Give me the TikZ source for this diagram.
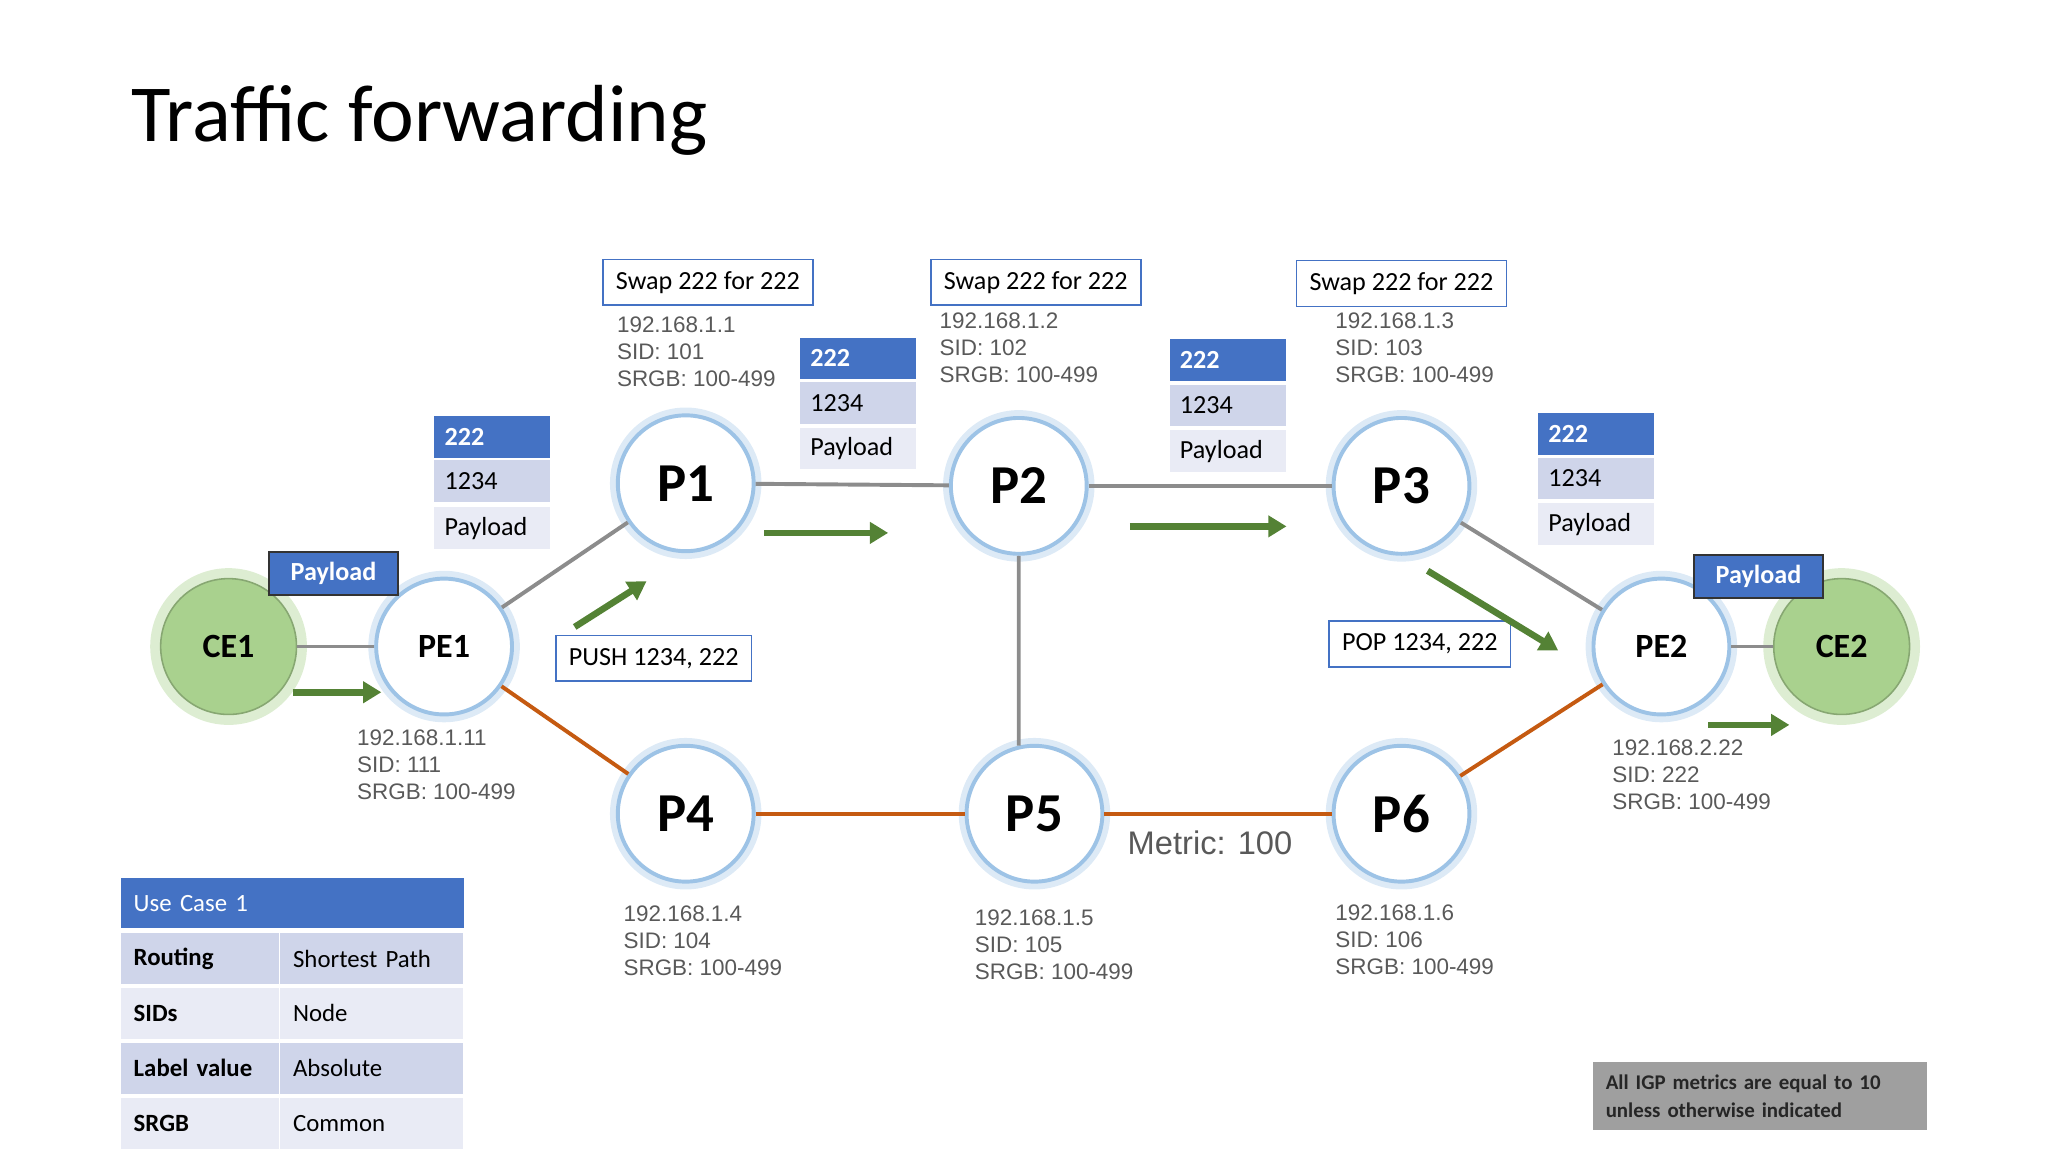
\documentclass[tikz,border=0pt]{standalone}
\usepackage{fontspec}
\setmainfont{Carlito}
\newfontfamily\arialf{Liberation Sans}
\usetikzlibrary{arrows.meta}
\definecolor{dblue}{HTML}{4472C4}
\definecolor{mblue}{HTML}{CFD5EA}
\definecolor{lblue}{HTML}{E9EBF5}
\definecolor{ggreen}{HTML}{548235}
\definecolor{cegreen}{HTML}{A9D18E}
\definecolor{eorange}{HTML}{C55A11}
\definecolor{ipgray}{HTML}{595959}
\definecolor{glowb}{HTML}{9DC3E6}
\tikzset{
  rnode/.style={circle,fill=white,draw=glowb,line width=1.5pt,minimum size=52pt,inner sep=0pt,font=\bfseries\fontsize{21}{21}\selectfont,
    preaction={draw=glowb!35,line width=6pt}},
  cenode/.style={circle,fill=cegreen,draw=ggreen!70,line width=0.6pt,minimum size=52pt,inner sep=0pt,font=\bfseries\fontsize{13}{13}\selectfont,
    preaction={draw=cegreen!40,line width=8pt}},
  pe/.style={rnode,font=\bfseries\fontsize{13}{13}\selectfont},
  lbl/.style={anchor=north west,minimum height=16pt,text width=36.5pt,inner xsep=4pt,inner ysep=0pt,align=left,font=\fontsize{10}{10}\selectfont},
  ltop/.style={lbl,fill=dblue,text=white,font=\bfseries\fontsize{10}{10}\selectfont},
  lmid/.style={lbl,fill=mblue},
  lbot/.style={lbl,fill=lblue},
  pay/.style={anchor=north west,minimum height=16.5pt,minimum width=49.5pt,inner sep=0pt,fill=dblue,draw=black!80,line width=0.8pt,text=white,font=\bfseries\fontsize{10}{10}\selectfont},
  opbox/.style={anchor=north west,minimum height=17.5pt,inner xsep=5pt,draw=dblue,line width=0.6pt,fill=white,font=\fontsize{10}{10}\selectfont},
  ip/.style={anchor=north west,align=left,inner sep=0pt,text=ipgray,font=\arialf\fontsize{8.6}{10.4}\selectfont},
  gline/.style={draw=gray!90,line width=1.5pt},
  oline/.style={draw=eorange,line width=1.5pt},
  garrow/.style={draw=ggreen,line width=2.5pt,-{Triangle[length=7pt,width=8pt]}},
  tcell/.style={anchor=north west,minimum height=19.5pt,inner xsep=5pt,inner ysep=0pt,text width=50.5pt,align=left,font=\fontsize{9.5}{10}\selectfont},
}
\begin{document}
\begin{tikzpicture}[x=0.5pt,y=-0.5pt]
\useasboundingbox (0,0) rectangle (1568,882);
\node[anchor=base west,inner sep=0pt,font=\fontsize{31}{31}\selectfont] (title) at (100,108) {Traffic forwarding};
% nodes
\node[cenode] (CE1) at (175,495) {CE1};
\node[pe] (PE1) at (340,495) {PE1};
\node[rnode] (P1) at (525,370) {P1};
\node[rnode] (P2) at (780,372) {P2};
\node[rnode] (P3) at (1073,372) {P3};
\node[rnode] (P4) at (525,623) {P4};
\node[rnode] (P5) at (792,623) {P5};
\node[rnode] (P6) at (1073,623) {P6};
\node[pe] (PE2) at (1272,495) {PE2};
\node[cenode] (CE2) at (1410,495) {CE2};
% edges
\draw[gline] (CE1)--(PE1);
\draw[gline] (PE1)--(P1);
\draw[gline] (P1)--(P2);
\draw[gline] (P2)--(P3);
\draw[gline] (P3)--(PE2);
\draw[gline] (PE2)--(CE2);
\draw[gline] (P2.south)--(P5.103);
\draw[oline] (PE1)--(P4);
\draw[oline] (P4)--(P5);
\draw[oline] (P5)--(P6);
\draw[oline] (P6)--(PE2);
% label stacks
\node[ltop] (s1a) at (332,318) {222};
\node[lmid] (s1b) at (332,352) {1234};
\node[lbot] (s1c) at (332,388) {Payload};
\node[ltop] (s2a) at (612,258) {222};
\node[lmid] (s2b) at (612,292) {1234};
\node[lbot] (s2c) at (612,327) {Payload};
\node[ltop] (s3a) at (895,259) {222};
\node[lmid] (s3b) at (895,294) {1234};
\node[lbot] (s3c) at (895,329) {Payload};
\node[ltop] (s4a) at (1177,316) {222};
\node[lmid] (s4b) at (1177,350) {1234};
\node[lbot] (s4c) at (1177,385) {Payload};
\node[pay] (pay1) at (205,422) {Payload};
\node[pay] (pay2) at (1296,424) {Payload};
% operation boxes
\node[opbox] (sw1) at (461,198) {Swap 222 for 222};
\node[opbox] (sw2) at (712,198) {Swap 222 for 222};
\node[opbox] (sw3) at (992,199) {Swap 222 for 222};
\node[opbox] (push) at (425,486) {PUSH 1234, 222};
\node[opbox] (pop) at (1017,475) {POP 1234, 222};
% ip texts
\node[ip] (ip1) at (472,242) {192.168.1.1\\SID: 101\\SRGB: 100-499};
\node[ip] (ip2) at (719,239) {192.168.1.2\\SID: 102\\SRGB: 100-499};
\node[ip] (ip3) at (1022,239) {192.168.1.3\\SID: 103\\SRGB: 100-499};
\node[ip] (ip11) at (273,558) {192.168.1.11\\SID: 111\\SRGB: 100-499};
\node[ip] (ip4) at (477,693) {192.168.1.4\\SID: 104\\SRGB: 100-499};
\node[ip] (ip5) at (746,696) {192.168.1.5\\SID: 105\\SRGB: 100-499};
\node[ip] (ip6) at (1022,692) {192.168.1.6\\SID: 106\\SRGB: 100-499};
\node[ip] (ip22) at (1234,566) {192.168.2.22\\SID: 222\\SRGB: 100-499};
\node[anchor=west,inner sep=0pt,text=ipgray,font=\arialf\fontsize{12.5}{13}\selectfont] (metric) at (863,645) {Metric: 100};
% green arrows
\coordinate (a1s) at (224,530); \coordinate (a1e) at (292,530);
\coordinate (a2s) at (440,480); \coordinate (a2e) at (495,445);
\coordinate (a3s) at (585,408); \coordinate (a3e) at (680,408);
\coordinate (a4s) at (865,403); \coordinate (a4e) at (985,403);
\coordinate (a5s) at (1093,437); \coordinate (a5e) at (1193,498);
\coordinate (a6s) at (1308,555); \coordinate (a6e) at (1370,555);
\draw[garrow] (a1s)--(a1e);
\draw[garrow] (a2s)--(a2e);
\draw[garrow] (a3s)--(a3e);
\draw[garrow] (a4s)--(a4e);
\draw[garrow] (a5s)--(a5e);
\draw[garrow] (a6s)--(a6e);
% table
\node[anchor=north west,minimum width=131.5pt,minimum height=19pt,inner xsep=5pt,inner ysep=0pt,text width=121.5pt,fill=dblue,text=white,font=\fontsize{9.5}{10}\selectfont] (th) at (92,672) {Use Case 1};
\node[tcell,fill=mblue,font=\bfseries\fontsize{9.5}{10}\selectfont] (r1a) at (92,714) {Routing};
\node[tcell,fill=mblue,text width=60pt] (r1b) at (214,714) {Shortest Path};
\node[tcell,fill=lblue,font=\bfseries\fontsize{9.5}{10}\selectfont] (r2a) at (92,756) {SIDs};
\node[tcell,fill=lblue,text width=60pt] (r2b) at (214,756) {Node};
\node[tcell,fill=mblue,font=\bfseries\fontsize{9.5}{10}\selectfont] (r3a) at (92,798) {Label value};
\node[tcell,fill=mblue,text width=60pt] (r3b) at (214,798) {Absolute};
\node[tcell,fill=lblue,font=\bfseries\fontsize{9.5}{10}\selectfont] (r4a) at (92,840) {SRGB};
\node[tcell,fill=lblue,text width=60pt] (r4b) at (214,840) {Common};
% note
\node[anchor=north west,minimum width=128pt,minimum height=26pt,inner xsep=5pt,inner ysep=0pt,text width=118pt,align=left,fill=gray!75,text=black!85,font=\bfseries\fontsize{8}{10.5}\selectfont] (note) at (1219,813) {All IGP metrics are equal to 10\\unless otherwise indicated};
\end{tikzpicture}
\end{document}
